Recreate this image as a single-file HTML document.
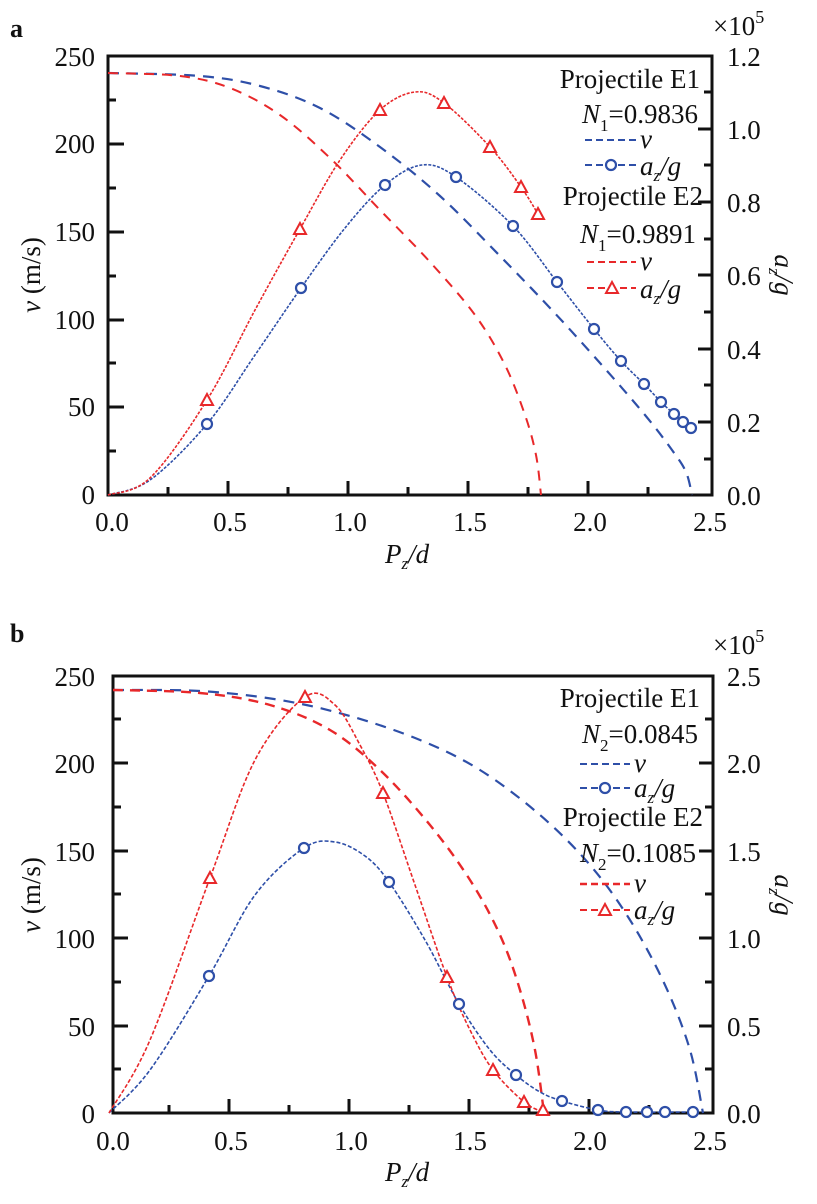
<!DOCTYPE html>
<html><head><meta charset="utf-8"><style>
body{margin:0;background:#fff}
svg text{font-family:"Liberation Serif",serif;fill:#111}
</style></head><body>
<svg width="817" height="1199" viewBox="0 0 817 1199" xmlns="http://www.w3.org/2000/svg">
<defs>
<g id="circ"><circle r="5" fill="#fff" stroke="#2e4fa8" stroke-width="2.2"/></g>
<g id="tri"><path d="M0,-6 L6,5 L-6,5 Z" fill="#fff" stroke="#e8282a" stroke-width="2"/></g>
</defs>
<!-- ===== Panel a ===== -->
<text x="10" y="37" font-size="26" font-weight="bold">a</text>
<rect x="108" y="56" width="604" height="439" fill="none" stroke="#111" stroke-width="3"/>
<g stroke="#111" stroke-width="3">
<line x1="108" y1="144" x2="124" y2="144"/><line x1="108" y1="232" x2="124" y2="232"/><line x1="108" y1="320" x2="124" y2="320"/><line x1="108" y1="407" x2="124" y2="407"/>
<line x1="108" y1="100" x2="116" y2="100"/><line x1="108" y1="188" x2="116" y2="188"/><line x1="108" y1="276" x2="116" y2="276"/><line x1="108" y1="363" x2="116" y2="363"/><line x1="108" y1="451" x2="116" y2="451"/>
<line x1="228" y1="495" x2="228" y2="481"/><line x1="348" y1="495" x2="348" y2="481"/><line x1="468" y1="495" x2="468" y2="481"/><line x1="588" y1="495" x2="588" y2="481"/>
<line x1="168" y1="495" x2="168" y2="487"/><line x1="288" y1="495" x2="288" y2="487"/><line x1="408" y1="495" x2="408" y2="487"/><line x1="528" y1="495" x2="528" y2="487"/><line x1="648" y1="495" x2="648" y2="487"/>
<line x1="712" y1="129" x2="698" y2="129"/><line x1="712" y1="202" x2="698" y2="202"/><line x1="712" y1="275" x2="698" y2="275"/><line x1="712" y1="349" x2="698" y2="349"/><line x1="712" y1="422" x2="698" y2="422"/>
<line x1="712" y1="92" x2="704" y2="92"/><line x1="712" y1="165" x2="704" y2="165"/><line x1="712" y1="239" x2="704" y2="239"/><line x1="712" y1="312" x2="704" y2="312"/><line x1="712" y1="385" x2="704" y2="385"/><line x1="712" y1="459" x2="704" y2="459"/>
</g>
<g font-size="27" text-anchor="end">
<text x="95" y="66">250</text><text x="95" y="153">200</text><text x="95" y="241">150</text><text x="95" y="329">100</text><text x="95" y="416">50</text><text x="95" y="504">0</text>
</g>
<g font-size="27" text-anchor="middle">
<text x="112" y="531">0.0</text><text x="230" y="531">0.5</text><text x="350" y="531">1.0</text><text x="470" y="531">1.5</text><text x="590" y="531">2.0</text><text x="710" y="531">2.5</text>
</g>
<g font-size="27">
<text x="727" y="66">1.2</text><text x="727" y="139">1.0</text><text x="727" y="212">0.8</text><text x="727" y="285">0.6</text><text x="727" y="359">0.4</text><text x="727" y="432">0.2</text><text x="727" y="505">0.0</text>
<text x="713" y="35">×10<tspan font-size="18" dy="-12">5</tspan></text>
</g>
<text transform="translate(40,275) rotate(-90)" font-size="27" text-anchor="middle"><tspan font-style="italic">v</tspan> (m/s)</text>
<text transform="translate(775,275) rotate(90)" font-size="27" text-anchor="middle" font-style="italic">a<tspan font-size="17" dy="6">z</tspan><tspan dy="-6">/g</tspan></text>
<text x="385" y="563" font-size="27" font-style="italic">P<tspan font-size="17" dy="6">z</tspan><tspan dy="-6">/d</tspan></text>
<path id="a1" fill="none" stroke="#2e4fa8" stroke-width="2.2" stroke-dasharray="11,8"/>
<path id="a2" fill="none" stroke="#e8282a" stroke-width="2" stroke-dasharray="10,8"/>
<path id="a3" fill="none" stroke="#2e4fa8" stroke-width="1.6" stroke-dasharray="3,1.5"/>
<path id="a4" fill="none" stroke="#e8282a" stroke-width="1.6" stroke-dasharray="3,1.5"/>
<g>
<use href="#circ" x="207" y="424"/><use href="#circ" x="301" y="288"/><use href="#circ" x="385" y="185"/><use href="#circ" x="456" y="177"/><use href="#circ" x="513" y="226"/><use href="#circ" x="557" y="282"/><use href="#circ" x="594" y="329"/><use href="#circ" x="621" y="361"/><use href="#circ" x="644" y="384"/><use href="#circ" x="661" y="402"/><use href="#circ" x="674" y="414"/><use href="#circ" x="683" y="422"/><use href="#circ" x="691" y="428"/>
<use href="#tri" x="207" y="400"/><use href="#tri" x="300" y="229"/><use href="#tri" x="380" y="110"/><use href="#tri" x="444" y="103"/><use href="#tri" x="490" y="147"/><use href="#tri" x="521" y="187"/><use href="#tri" x="538" y="214"/>
</g>
<g font-size="27">
<text x="700" y="88" text-anchor="end">Projectile E1</text>
<text x="698" y="123" text-anchor="end"><tspan font-style="italic">N</tspan><tspan font-size="17" dy="8">1</tspan><tspan dy="-8">=0.9836</tspan></text>
<line x1="585" y1="140" x2="636" y2="140" stroke="#2e4fa8" stroke-width="2" stroke-dasharray="7,4"/>
<text x="640" y="148" font-style="italic">v</text>
<line x1="585" y1="165" x2="636" y2="165" stroke="#2e4fa8" stroke-width="2" stroke-dasharray="7,4"/><use href="#circ" x="611" y="165"/>
<text x="640" y="175" font-style="italic">a<tspan font-size="17" dy="6">z</tspan><tspan dy="-6">/g</tspan></text>
<text x="703" y="205" text-anchor="end">Projectile E2</text>
<text x="696" y="243" text-anchor="end"><tspan font-style="italic">N</tspan><tspan font-size="17" dy="8">1</tspan><tspan dy="-8">=0.9891</tspan></text>
<line x1="587" y1="262" x2="636" y2="262" stroke="#e8282a" stroke-width="2" stroke-dasharray="7,4"/>
<text x="640" y="270" font-style="italic">v</text>
<line x1="587" y1="288" x2="636" y2="288" stroke="#e8282a" stroke-width="2" stroke-dasharray="7,4"/><use href="#tri" x="612" y="288"/>
<text x="640" y="298" font-style="italic">a<tspan font-size="17" dy="6">z</tspan><tspan dy="-6">/g</tspan></text>
</g>

<!-- ===== Panel b ===== -->
<text x="10" y="642" font-size="26" font-weight="bold">b</text>
<rect x="113" y="676" width="600" height="437" fill="none" stroke="#111" stroke-width="3"/>
<g stroke="#111" stroke-width="3">
<line x1="113" y1="763" x2="128" y2="763"/><line x1="113" y1="851" x2="128" y2="851"/><line x1="113" y1="938" x2="128" y2="938"/><line x1="113" y1="1026" x2="128" y2="1026"/>
<line x1="113" y1="719" x2="121" y2="719"/><line x1="113" y1="807" x2="121" y2="807"/><line x1="113" y1="894" x2="121" y2="894"/><line x1="113" y1="982" x2="121" y2="982"/><line x1="113" y1="1069" x2="121" y2="1069"/>
<line x1="229" y1="1113" x2="229" y2="1099"/><line x1="349" y1="1113" x2="349" y2="1099"/><line x1="469" y1="1113" x2="469" y2="1099"/><line x1="589" y1="1113" x2="589" y2="1099"/>
<line x1="169" y1="1113" x2="169" y2="1105"/><line x1="289" y1="1113" x2="289" y2="1105"/><line x1="409" y1="1113" x2="409" y2="1105"/><line x1="529" y1="1113" x2="529" y2="1105"/><line x1="649" y1="1113" x2="649" y2="1105"/>
<line x1="713" y1="763" x2="699" y2="763"/><line x1="713" y1="851" x2="699" y2="851"/><line x1="713" y1="938" x2="699" y2="938"/><line x1="713" y1="1026" x2="699" y2="1026"/>
<line x1="713" y1="719" x2="705" y2="719"/><line x1="713" y1="807" x2="705" y2="807"/><line x1="713" y1="894" x2="705" y2="894"/><line x1="713" y1="982" x2="705" y2="982"/><line x1="713" y1="1069" x2="705" y2="1069"/>
</g>
<g font-size="27" text-anchor="end">
<text x="95" y="686">250</text><text x="95" y="773">200</text><text x="95" y="861">150</text><text x="95" y="948">100</text><text x="95" y="1036">50</text><text x="95" y="1123">0</text>
</g>
<g font-size="27" text-anchor="middle">
<text x="113" y="1150">0.0</text><text x="231" y="1150">0.5</text><text x="351" y="1150">1.0</text><text x="470" y="1150">1.5</text><text x="590" y="1150">2.0</text><text x="710" y="1150">2.5</text>
</g>
<g font-size="27">
<text x="727" y="686">2.5</text><text x="727" y="773">2.0</text><text x="727" y="861">1.5</text><text x="727" y="948">1.0</text><text x="727" y="1036">0.5</text><text x="727" y="1123">0.0</text>
<text x="713" y="654">×10<tspan font-size="18" dy="-12">5</tspan></text>
</g>
<text transform="translate(40,895) rotate(-90)" font-size="27" text-anchor="middle"><tspan font-style="italic">v</tspan> (m/s)</text>
<text transform="translate(775,895) rotate(90)" font-size="27" text-anchor="middle" font-style="italic">a<tspan font-size="17" dy="6">z</tspan><tspan dy="-6">/g</tspan></text>
<text x="385" y="1181" font-size="27" font-style="italic">P<tspan font-size="17" dy="6">z</tspan><tspan dy="-6">/d</tspan></text>
<path id="b1" fill="none" stroke="#2e4fa8" stroke-width="2.2" stroke-dasharray="11,8"/>
<path id="b2" fill="none" stroke="#e8282a" stroke-width="2.4" stroke-dasharray="10,7"/>
<path id="b3" fill="none" stroke="#2e4fa8" stroke-width="1.6" stroke-dasharray="4,2"/>
<path id="b4" fill="none" stroke="#e8282a" stroke-width="1.6" stroke-dasharray="4,2"/>
<g>
<use href="#circ" x="209" y="976"/><use href="#circ" x="304" y="848"/><use href="#circ" x="389" y="882"/><use href="#circ" x="459" y="1004"/><use href="#circ" x="516" y="1075"/><use href="#circ" x="562" y="1101"/><use href="#circ" x="598" y="1110"/><use href="#circ" x="626" y="1112"/><use href="#circ" x="647" y="1112"/><use href="#circ" x="665" y="1112"/><use href="#circ" x="693" y="1112"/>
<use href="#tri" x="210" y="878"/><use href="#tri" x="305" y="697"/><use href="#tri" x="383" y="793"/><use href="#tri" x="447" y="977"/><use href="#tri" x="493" y="1070"/><use href="#tri" x="524" y="1102"/><use href="#tri" x="543" y="1110"/>
</g>
<g font-size="27">
<text x="700" y="707" text-anchor="end">Projectile E1</text>
<text x="698" y="743" text-anchor="end"><tspan font-style="italic">N</tspan><tspan font-size="17" dy="8">2</tspan><tspan dy="-8">=0.0845</tspan></text>
<line x1="580" y1="764" x2="630" y2="764" stroke="#2e4fa8" stroke-width="2" stroke-dasharray="7,4"/>
<text x="634" y="772" font-style="italic">v</text>
<line x1="580" y1="788" x2="630" y2="788" stroke="#2e4fa8" stroke-width="2" stroke-dasharray="7,4"/><use href="#circ" x="605" y="788"/>
<text x="634" y="797" font-style="italic">a<tspan font-size="17" dy="6">z</tspan><tspan dy="-6">/g</tspan></text>
<text x="703" y="826" text-anchor="end">Projectile E2</text>
<text x="696" y="862" text-anchor="end"><tspan font-style="italic">N</tspan><tspan font-size="17" dy="8">2</tspan><tspan dy="-8">=0.1085</tspan></text>
<line x1="580" y1="884" x2="630" y2="884" stroke="#e8282a" stroke-width="2.4" stroke-dasharray="7,4"/>
<text x="634" y="892" font-style="italic">v</text>
<line x1="580" y1="910" x2="630" y2="910" stroke="#e8282a" stroke-width="2" stroke-dasharray="7,4"/><use href="#tri" x="605" y="910"/>
<text x="634" y="919" font-style="italic">a<tspan font-size="17" dy="6">z</tspan><tspan dy="-6">/g</tspan></text>
</g>
</svg>
<script>
function cr(p){var d="M"+p[0][0]+","+p[0][1];for(var i=0;i<p.length-1;i++){var a=p[i-1]||p[i],b=p[i],c=p[i+1],e=p[i+2]||c;
d+=" C"+(b[0]+(c[0]-a[0])/6).toFixed(1)+","+(b[1]+(c[1]-a[1])/6).toFixed(1)+" "+(c[0]-(e[0]-b[0])/6).toFixed(1)+","+(c[1]-(e[1]-b[1])/6).toFixed(1)+" "+c[0]+","+c[1];}return d;}
function s(id,p){document.getElementById(id).setAttribute("d",cr(p));}
s("a1",[[108,73],[200,76],[260,86],[320,108],[380,147],[440,196],[500,256],[550,308],[600,363],[645,415],[672,450],[686,472],[692,495]]);
s("a2",[[108,73],[180,76],[230,88],[280,115],[330,158],[380,210],[430,262],[475,315],[505,365],[525,415],[536,455],[541,495]]);
s("a3",[[108,495],[150,480],[207,424],[255,355],[301,288],[345,228],[385,185],[422,165],[456,177],[513,226],[557,282],[594,329],[621,361],[644,384],[661,402],[674,414],[683,422],[691,428]]);
s("a4",[[108,495],[150,478],[207,400],[255,310],[300,229],[340,160],[380,110],[415,92],[444,103],[490,147],[521,187],[538,214]]);
s("b1",[[113,690],[200,691],[280,700],[350,716],[420,740],[480,770],[540,815],[590,865],[630,920],[665,985],[690,1050],[703,1113]]);
s("b2",[[113,690],[200,693],[270,705],[330,730],[380,770],[430,825],[470,880],[500,935],[520,990],[535,1050],[544,1113]]);
s("b3",[[109,1113],[150,1070],[209,976],[255,895],[304,848],[335,842],[365,856],[389,882],[425,940],[459,1004],[490,1050],[516,1075],[540,1092],[562,1101],[598,1110],[626,1112],[695,1112]]);
s("b4",[[109,1113],[150,1040],[210,878],[255,760],[305,697],[335,705],[360,745],[383,793],[415,885],[447,977],[470,1030],[493,1070],[524,1102],[543,1112]]);
</script>
</body></html>
